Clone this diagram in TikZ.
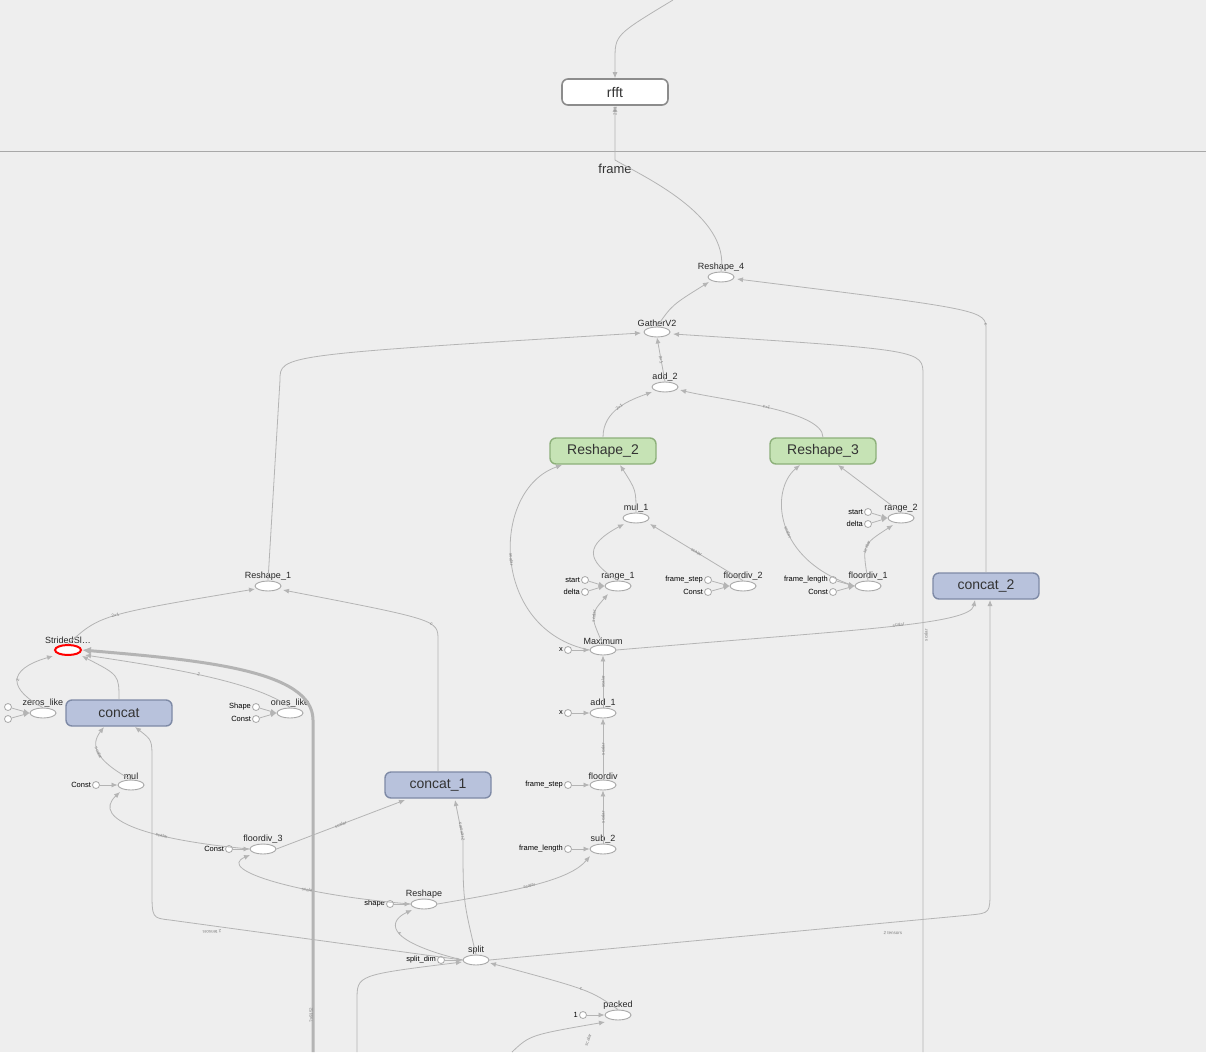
\documentclass[tikz,border=0pt]{standalone}
\usepackage{fontspec}
\setmainfont{Liberation Sans}
\usetikzlibrary{arrows.meta,shapes.geometric}

\definecolor{bggray}{HTML}{EEEEEE}
\definecolor{edgegray}{HTML}{B4B4B4}
\definecolor{opgray}{HTML}{A8A8A8}
\definecolor{greenfill}{HTML}{C6E3B5}
\definecolor{greenline}{HTML}{8DB07A}
\definecolor{bluefill}{HTML}{B8C2DC}
\definecolor{blueline}{HTML}{7E8AA6}

\tikzset{
    op/.style = {ellipse, draw = opgray, fill = white, line width = 0.9pt,
        minimum width = 26pt, minimum height = 10pt, inner sep = 0pt},
    cin/.style = {circle, draw = opgray, fill = white, line width = 0.8pt,
        minimum size = 7pt, inner sep = 0pt},
    meta/.style = {rounded corners = 6pt, draw = opgray, fill = white,
        line width = 1.4pt, minimum width = 106pt, minimum height = 26pt,
        font = \fontsize{14}{16}\selectfont, text = black!80},
    green/.style = {meta, draw = greenline, fill = greenfill},
    blue/.style = {meta, draw = blueline, fill = bluefill},
    lbl/.style = {font = \fontsize{9}{10}\selectfont, inner sep = 1pt, text = black!85},
    small/.style = {font = \fontsize{7.5}{8}\selectfont, inner sep = 1pt},
    edge/.style = {draw = edgegray, line width = 0.8pt, -{Latex[length = 6pt, width = 5pt]}},
    elbl/.style = {font = \fontsize{4.5}{5}\selectfont, text = gray, sloped, inner sep = 0.5pt}
}

\begin{document}
\begin{tikzpicture}[x = 1pt, y = -1pt]

    % Background.
    \fill[bggray] (0, 0) rectangle (1206, 1052);
    \useasboundingbox (0, 0) rectangle (1206, 1052);
    \draw[opgray, line width = 1pt] (0, 151) -- (1206, 151);

    % Top part.
    \node[meta, draw = black!45, line width = 1.6pt] (rfft) at (615, 92) {rfft};
    \coordinate (topin) at (673, 0);
    \node[font = \fontsize{13}{15}\selectfont, text = black!80] (frame) at (615, 169) {frame};

    % Operations.
    \node[op] (reshape4) at (721, 277) {};
    \node[op] (gather) at (657, 332) {};
    \node[op] (add2) at (665, 387) {};
    \node[green] (reshape2) at (603, 451) {Reshape\_2};
    \node[green] (reshape3) at (823, 451) {Reshape\_3};
    \node[op] (mul1) at (636, 518) {};
    \node[op] (range2) at (901, 518) {};
    \node[op] (range1) at (618, 586) {};
    \node[op] (floordiv2) at (743, 586) {};
    \node[op] (floordiv1) at (868, 586) {};
    \node[blue] (concat2) at (986, 586) {concat\_2};
    \node[op] (reshape1) at (268, 586) {};
    \node[op, draw = red, line width = 2pt] (strided) at (68, 650) {};
    \node[op] (maximum) at (603, 650) {};
    \node[op] (zeros) at (43, 713) {};
    \node[blue] (concat) at (119, 713) {concat};
    \node[op] (ones) at (290, 713) {};
    \node[op] (add1) at (603, 713) {};
    \node[op] (mul) at (131, 785) {};
    \node[blue] (concat1) at (438, 785) {concat\_1};
    \node[op] (floordiv) at (603, 785) {};
    \node[op] (floordiv3) at (263, 849) {};
    \node[op] (sub2) at (603, 849) {};
    \node[op] (reshape) at (424, 904) {};
    \node[op] (split) at (476, 960) {};
    \node[op] (packed) at (618, 1015) {};

    % Operation names.
    \foreach \n/\t in {reshape4/Reshape\_4, gather/GatherV2, add2/add\_2,
        mul1/mul\_1, range2/range\_2, range1/range\_1, floordiv2/floordiv\_2,
        floordiv1/floordiv\_1, reshape1/Reshape\_1,
        maximum/Maximum, zeros/zeros\_like, ones/ones\_like, add1/add\_1,
        mul/mul, floordiv/floordiv, floordiv3/floordiv\_3, sub2/sub\_2,
        reshape/Reshape, split/split, packed/packed}{%
        \node[lbl, anchor = south] at ([yshift = -1pt]\n.north) {\t};
    }
    \node[lbl, anchor = south] at ([yshift = -1pt]strided.north) {StridedSl\ldots};

    % Constant inputs.
    \foreach \c/\x/\y/\t/\d in {c1/585/580/start/range1, c2/585/592/delta/range1,
        c3/708/580/frame\_step/floordiv2, c4/708/592/Const/floordiv2,
        c5/868/512/start/range2, c6/868/524/delta/range2,
        c7/833/580/frame\_length/floordiv1, c8/833/592/Const/floordiv1,
        c9/568/650/x/maximum, c10/568/713/x/add1,
        c11/568/785/frame\_step/floordiv, c12/568/849/frame\_length/sub2,
        c13/8/707/{}/zeros, c14/8/719/{}/zeros,
        c15/256/707/Shape/ones, c16/256/719/Const/ones,
        c17/96/785/Const/mul, c18/229/849/Const/floordiv3,
        c19/390/904/shape/reshape, c20/441/960/split\_dim/split,
        c21/583/1015/1/packed}{%
        \node[cin] (\c) at (\x, \y) {};
        \node[small, anchor = east] at (\c.west) {\t};
        \draw[edge] (\c) -- (\d.west);
    }

    % Edges.
    \begin{scope}[every path/.style = {edge}]
        \draw (topin) .. controls (615, 35) .. (615, 60) -- (rfft.north);
        \draw (reshape4.north) .. controls (731, 215) and (640, 175) .. (615, 160)
            -- (rfft.south) node[elbl, pos = 0.9] {2×1};
        \draw (gather.north) .. controls (672, 305) .. (709, 282);
        \draw (concat2.north) -- (986, 330) .. controls (986, 310) .. (737, 279)
            node[elbl, pos = 0.1] {c};
        \draw (reshape1.north) -- (280, 380) .. controls (280, 355) .. (641, 333);
        \draw (923, 1052) -- (923, 375) .. controls (923, 350) .. (673, 334);
        \node[elbl, rotate = 90] at (926, 635) {scalar};
        \draw (add2.north) -- (gather.south) node[elbl, midway] {2×1};
        \draw (reshape2.north) .. controls (603, 410) and (630, 400) .. (652, 392)
            node[elbl, midway] {2×1};
        \draw (reshape3.north) .. controls (823, 410) and (720, 400) .. (680, 390)
            node[elbl, midway] {c×1};
        \draw (mul1.north) .. controls (636, 490) .. (620, 465);
        \draw (range2.north) -- (838, 465);
        \draw (floordiv1.west) .. controls (773, 560) and (770, 490) .. (800, 465)
            node[elbl, pos = 0.45] {scalar};
        \draw (maximum.west) .. controls (490, 630) and (490, 490) .. (562, 465)
            node[elbl, pos = 0.5] {scalar};
        \draw (range1.north) .. controls (585, 560) and (585, 545) .. (624, 524);
        \draw (floordiv2.north) -- (650, 524) node[elbl, midway] {scalar};
        \draw (floordiv1.north) .. controls (862, 545) .. (893, 525)
            node[elbl, midway] {scalar};
        \draw (maximum.north) .. controls (590, 615) .. (608, 594)
            node[elbl, midway] {scalar};
        \draw (maximum.east) .. controls (850, 630) and (970, 625) .. (975, 600)
            node[elbl, pos = 0.55] {scalar};
        \draw (add1.north) -- (maximum.south) node[elbl, midway] {scalar};
        \draw (floordiv.north) -- (add1.south) node[elbl, midway] {scalar};
        \draw (sub2.north) -- (floordiv.south) node[elbl, midway] {scalar};
        \draw (reshape.east) .. controls (520, 890) and (570, 880) .. (590, 856)
            node[elbl, pos = 0.45] {scalar};
        \draw (split.west) .. controls (380, 940) and (390, 920) .. (412, 910)
            node[elbl, pos = 0.45] {c};
        \draw (split.north) .. controls (463, 900) .. (463, 840) -- (455, 800)
            node[elbl, pos = 0.2, rotate = 180] {2 tensors};
        \draw (split.west) -- (170, 920) .. controls (152, 918) .. (152, 890)
            -- (152, 760) .. controls (152, 740) .. (135, 727);
        \node[elbl, rotate = 184] at (212, 932) {2 tensors};
        \draw (split.east) -- (970, 915) .. controls (990, 913) .. (990, 890)
            -- (990, 600);
        \node[elbl, rotate = -2] at (893, 933) {2 tensors};
        \draw (packed.north) .. controls (590, 990) .. (490, 963)
            node[elbl, midway] {c};
        \draw (512, 1052) .. controls (530, 1035) .. (605, 1022);
        \node[elbl, rotate = 70] at (588, 1040) {scalar};
        \draw (357, 1052) -- (357, 1000) .. controls (357, 975) .. (462, 962);
        \draw (concat1.north) -- (438, 640) .. controls (438, 620) .. (283, 590)
            node[elbl, pos = 0.35] {c};
        \draw (strided.north) .. controls (100, 615) .. (255, 589)
            node[elbl, midway] {2×1};
        \draw (concat.north) .. controls (119, 675) .. (82, 656);
        \draw (zeros.north) .. controls (10, 690) and (5, 670) .. (53, 656)
            node[elbl, pos = 0.5] {2};
        \draw (ones.north) .. controls (255, 680) and (150, 665) .. (85, 655)
            node[elbl, midway] {2};
        \draw (mul.north) .. controls (95, 760) and (90, 745) .. (104, 727)
            node[elbl, pos = 0.5] {scalar};
        \draw (floordiv3.west) .. controls (150, 840) and (90, 820) .. (120, 792)
            node[elbl, pos = 0.35] {scalar};
        \draw (floordiv3.east) -- (405, 800) node[elbl, midway] {scalar};
        \draw (reshape.west) .. controls (300, 895) and (215, 870) .. (250, 855)
            node[elbl, pos = 0.35] {scalar};
    \end{scope}

    % Large tensor edge.
    \draw[draw = edgegray, line width = 3pt, -{Latex[length = 9pt, width = 8pt]}]
        (313, 1052) -- (313, 720) .. controls (313, 670) and (200, 660) .. (strided.east);
    \node[elbl, rotate = 90] at (311, 1015) {?x9152};

\end{tikzpicture}
\end{document}
